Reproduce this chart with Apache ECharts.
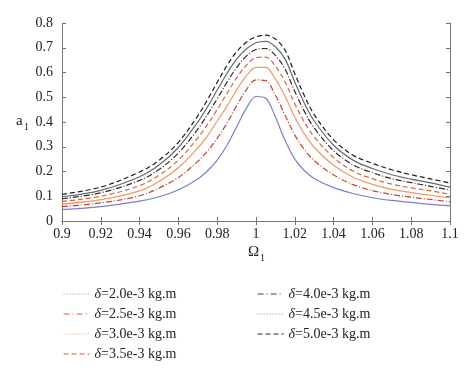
<!DOCTYPE html>
<html><head><meta charset="utf-8">
<script src="https://cdn.jsdelivr.net/npm/echarts@6/dist/echarts.min.js"></script>
<style>html,body{margin:0;padding:0;background:#fff}#c{width:474px;height:379px}</style>
</head><body><div id="c"></div>
<script>
const omega = [0.90,0.92,0.94,0.95,0.96,0.97,0.975,0.98,0.985,0.99,0.995,1.000,1.005,1.01,1.015,1.02,1.025,1.03,1.04,1.05,1.06,1.07,1.08,1.09,1.10];
const d20 = [0.046,0.058,0.080,0.098,0.126,0.170,0.203,0.246,0.305,0.380,0.455,0.503,0.496,0.420,0.325,0.250,0.203,0.172,0.135,0.111,0.094,0.083,0.075,0.067,0.061];
const d25 = [0.058,0.073,0.102,0.133,0.176,0.241,0.283,0.334,0.395,0.465,0.530,0.570,0.567,0.508,0.427,0.347,0.288,0.244,0.186,0.147,0.123,0.107,0.096,0.087,0.078];
const d30 = [0.068,0.086,0.122,0.160,0.215,0.295,0.344,0.404,0.463,0.529,0.586,0.621,0.621,0.574,0.504,0.419,0.351,0.298,0.225,0.177,0.148,0.128,0.115,0.104,0.093];
const d35 = [0.079,0.100,0.143,0.185,0.246,0.336,0.390,0.450,0.515,0.578,0.629,0.660,0.662,0.625,0.562,0.474,0.399,0.340,0.256,0.202,0.171,0.149,0.134,0.122,0.108];
const d40 = [0.090,0.114,0.164,0.208,0.275,0.371,0.430,0.494,0.560,0.620,0.666,0.693,0.697,0.669,0.613,0.523,0.442,0.376,0.284,0.227,0.195,0.171,0.155,0.140,0.125];
const d45 = [0.098,0.124,0.179,0.226,0.297,0.400,0.461,0.529,0.596,0.654,0.695,0.720,0.726,0.704,0.654,0.561,0.475,0.404,0.306,0.246,0.212,0.187,0.169,0.154,0.137];
const d50 = [0.108,0.137,0.198,0.245,0.318,0.425,0.490,0.560,0.628,0.684,0.722,0.744,0.751,0.735,0.690,0.595,0.505,0.430,0.328,0.266,0.233,0.207,0.187,0.170,0.154];
const names = ['δ=2.0e-3 kg.m','δ=2.5e-3 kg.m','δ=3.0e-3 kg.m','δ=3.5e-3 kg.m','δ=4.0e-3 kg.m','δ=4.5e-3 kg.m','δ=5.0e-3 kg.m'];
const values = [d20,d25,d30,d35,d40,d45,d50];

const lineColors = ['#7b7fc9','#c8442a','#ec9a66','#d9643a','#2b2b2b','#6a6a6a','#1e1e1e'];
const lineTypes = ['solid',[6,2,1,2],'solid',[5,3],[6,2,1,2],'solid',[5,3]];
const legColors = ['#9a9a9a','#d8603a','#ee9a6a','#d9502e','#444','#8a8a8a','#222'];
const legTypes = [[1,2],[6,3,1,3],[1,2],[5,3],[6,3,1,3],[1,2],[5,3]];

const font = '"Liberation Serif","DejaVu Serif",serif';
const chart = echarts.init(document.getElementById('c'));
const series = values.map((v,i)=>({
  name:names[i], type:'line', symbol:'none', smooth:0.35,
  lineStyle:{color:lineColors[i], width:1.2, type:lineTypes[i]},
  itemStyle:{color:lineColors[i]},
  data: omega.map((x,j)=>[x,v[j]])
}));
const legData = names.map((n,i)=>({name:n, itemStyle:{opacity:0}, lineStyle:{color:legColors[i], type:legTypes[i], width:1.2}}));
const legCommon = {orient:'vertical', itemWidth:26, itemHeight:14, itemGap:6,
  textStyle:{fontFamily:font, fontSize:14, color:'#222', rich:{d:{fontFamily:font,fontStyle:'italic',fontSize:14,color:'#222'}}},
  formatter:(n)=>n.replace('δ','{d|δ}'), selectedMode:false};
const axisCommon = {type:'value', axisLine:{show:true, lineStyle:{color:'#777', width:1}},
  axisTick:{show:true, inside:true, length:4, lineStyle:{color:'#777'}}, splitLine:{show:false}};
chart.setOption({
  animation:false,
  grid:{left:62, right:24, top:23, bottom:158},
  legend:[
    Object.assign({left:58, top:282, data:legData.slice(0,4)}, legCommon),
    Object.assign({left:252, top:282, data:legData.slice(4)}, legCommon)
  ],
  xAxis:[
    Object.assign({min:0.9, max:1.1, interval:0.02, position:'bottom',
      axisLabel:{fontFamily:font, fontSize:14, color:'#222', margin:6}}, axisCommon),
    Object.assign({min:0.9, max:1.1, interval:0.02, position:'top', axisLabel:{show:false}}, axisCommon)
  ],
  yAxis:[
    Object.assign({min:0, max:0.8, interval:0.1, position:'left',
      axisLabel:{fontFamily:font, fontSize:14, color:'#222', margin:9}}, axisCommon),
    Object.assign({min:0, max:0.8, interval:0.1, position:'right', axisLabel:{show:false}}, axisCommon)
  ],
  graphic:[
    {type:'text', left:16, top:114, style:{text:'a', font:'15px '+font, fill:'#222'}},
    {type:'text', left:24, top:122, style:{text:'1', font:'10px '+font, fill:'#222'}},
    {type:'text', left:248, top:245, style:{text:'Ω', font:'15px '+font, fill:'#222'}},
    {type:'text', left:260, top:253, style:{text:'1', font:'10px '+font, fill:'#222'}}
  ],
  series: series
});
</script></body></html>
